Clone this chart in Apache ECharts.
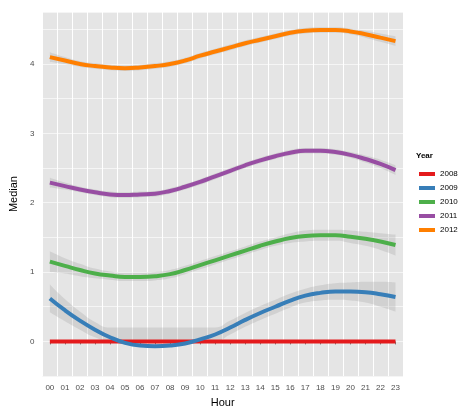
<!DOCTYPE html><html><head><meta charset="utf-8"><script src="https://cdn.jsdelivr.net/npm/echarts@6/dist/echarts.min.js"></script></head><body style="margin:0;background:#fff"><div id="c" style="width:474px;height:413px"></div><script>
const hours=['00','01','02','03','04','05','06','07','08','09','10','11','12','13','14','15','16','17','18','19','20','21','22','23'];
const years=['2008','2009','2010','2011','2012'];
const colors=['#E41A1C','#377EB8','#4DAF4A','#984EA3','#FF7F00'];
const v2008=[0,0,0,0,0,0,0,0,0,0,0,0,0,0,0,0,0,0,0,0,0,0,0,0];
const v2009=[0.62,0.45,0.3,0.17,0.06,-0.02,-0.06,-0.07,-0.06,-0.03,0.03,0.1,0.2,0.31,0.41,0.5,0.59,0.66,0.7,0.72,0.72,0.71,0.68,0.64];
const v2010=[1.15,1.09,1.03,0.98,0.95,0.93,0.93,0.94,0.97,1.03,1.1,1.17,1.24,1.31,1.38,1.44,1.49,1.52,1.53,1.53,1.51,1.48,1.44,1.39];
const v2011=[2.29,2.24,2.19,2.15,2.12,2.11,2.12,2.13,2.17,2.23,2.3,2.38,2.46,2.54,2.61,2.67,2.72,2.75,2.75,2.73,2.69,2.63,2.56,2.47];
const v2012=[4.1,4.05,4.0,3.97,3.95,3.94,3.95,3.97,4.0,4.05,4.12,4.18,4.24,4.3,4.35,4.4,4.45,4.48,4.49,4.49,4.47,4.43,4.38,4.33];
const se2008=[0,0,0,0,0,0,0,0,0,0,0,0,0,0,0,0,0,0,0,0,0,0,0,0];
const se2009=[0.2,0.16,0.13,0.11,0.1,0.1,0.1,0.1,0.1,0.1,0.1,0.1,0.1,0.1,0.1,0.1,0.1,0.1,0.11,0.12,0.13,0.15,0.18,0.21];
const se2010=[0.15,0.11,0.09,0.07,0.06,0.06,0.06,0.06,0.06,0.06,0.06,0.06,0.06,0.06,0.06,0.06,0.07,0.08,0.08,0.08,0.09,0.1,0.12,0.15];
const se2011=[0.07,0.05,0.04,0.04,0.04,0.04,0.04,0.04,0.04,0.04,0.04,0.04,0.04,0.04,0.04,0.04,0.04,0.04,0.04,0.04,0.04,0.05,0.06,0.07];
const se2012=[0.07,0.05,0.04,0.04,0.04,0.04,0.04,0.04,0.04,0.04,0.04,0.04,0.04,0.04,0.04,0.04,0.04,0.04,0.04,0.04,0.04,0.05,0.06,0.07];
const vals=[v2008,v2009,v2010,v2011,v2012], ses=[se2008,se2009,se2010,se2011,se2012];
const series=[];
vals.forEach((v,i)=>{
 if(i>0){
 series.push({type:'line',stack:'b'+i,symbol:'none',smooth:true,silent:true,lineStyle:{opacity:0},data:v.map((y,h)=>+(y-ses[i][h]).toFixed(3)),z:1});
 series.push({type:'line',stack:'b'+i,symbol:'none',smooth:true,silent:true,lineStyle:{opacity:0},areaStyle:{color:'rgba(150,150,150,0.35)'},data:ses[i].map(s=>2*s),z:1});}
 series.push({name:years[i],type:'line',symbol:'none',smooth:true,lineStyle:{width:4,color:colors[i]},itemStyle:{color:colors[i]},data:v,z:3});
});
const ch=echarts.init(document.getElementById('c'));
ch.setOption({animation:false,
grid:{left:30,right:71,top:12,bottom:33,backgroundColor:'#E5E5E5',show:true,borderWidth:0},
xAxis:{type:'category',data:hours,boundaryGap:true,name:'Hour',nameLocation:'middle',nameGap:20,nameTextStyle:{fontSize:11,color:'#000'},
 axisLine:{show:false},axisTick:{show:true,alignWithLabel:true,length:3,lineStyle:{color:'#777'}},
 axisLabel:{fontSize:8,color:'#4d4d4d',interval:0},
 splitLine:{show:true,interval:0,lineStyle:{color:'#fff',width:1}}},
yAxis:{type:'value',min:-0.5,max:4.75,interval:0.5,name:'Median',nameLocation:'middle',nameGap:17,nameTextStyle:{fontSize:11,color:'#000'},
 axisLine:{show:false},axisTick:{show:false},
 axisLabel:{fontSize:8,color:'#4d4d4d',formatter:v=>Math.abs(v-Math.round(v))<1e-6&&v>=0?String(Math.round(v)):'',showMaxLabel:false},
 splitLine:{lineStyle:{color:'#F5F5F5',width:1}}},
legend:{data:years,orient:'vertical',left:414,top:165,itemWidth:16,itemHeight:4,itemGap:6,icon:'rect',textStyle:{fontSize:8,color:'#000'}},
graphic:[{type:'text',left:416,top:152,style:{text:'Year',font:'bold 8px sans-serif',fill:'#000'}}],
series});
</script></body></html>
